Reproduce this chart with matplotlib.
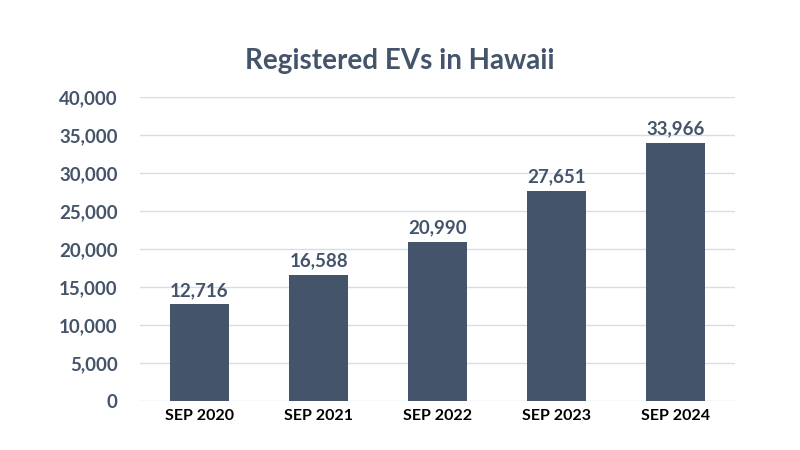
import numpy as np
import matplotlib
matplotlib.use("Agg")
import matplotlib.pyplot as plt
from matplotlib.ticker import FuncFormatter

# data
periods = ["SEP 2020", "SEP 2021", "SEP 2022", "SEP 2023", "SEP 2024"]
registered = [12716, 16588, 20990, 27651, 33966]

slate = "#44546A"
plt.rcParams['font.family'] = ['Lato', 'DejaVu Sans']

fig = plt.figure(figsize=(8, 4.5), dpi=100)
ax = fig.add_axes([0.175, 0.109, 0.744, 0.675])

x = np.arange(len(periods))
ax.bar(x, registered, width=0.5, color=slate, zorder=3)

for xi, v in zip(x, registered):
    ax.text(xi, v + 700, f"{v:,}", ha="center", va="bottom",
            fontsize=13.5, fontweight="bold", color=slate)

ax.set_xlim(-0.5, len(periods) - 0.5)
ax.set_ylim(0, 40000)
ax.set_yticks(np.arange(0, 40001, 5000))
ax.yaxis.set_major_formatter(FuncFormatter(lambda v, p: f"{int(v):,}"))
ax.set_xticks(x)
ax.set_xticklabels(periods)

ax.grid(axis="y", color="#D9DDE3", linewidth=1, zorder=0)
for s in ax.spines.values():
    s.set_visible(False)
ax.tick_params(length=0)
ax.tick_params(axis="y", labelsize=13.5, labelcolor=slate, pad=16)
ax.tick_params(axis="x", labelsize=11.5, labelcolor="black", pad=6)
for lab in ax.get_yticklabels() + ax.get_xticklabels():
    lab.set_fontweight("bold")

fig.text(0.5, 0.865, "Registered EVs in Hawaii", ha="center", va="center",
         fontsize=20, fontweight="bold", color=slate)

fig.savefig("out.png", dpi=100)
